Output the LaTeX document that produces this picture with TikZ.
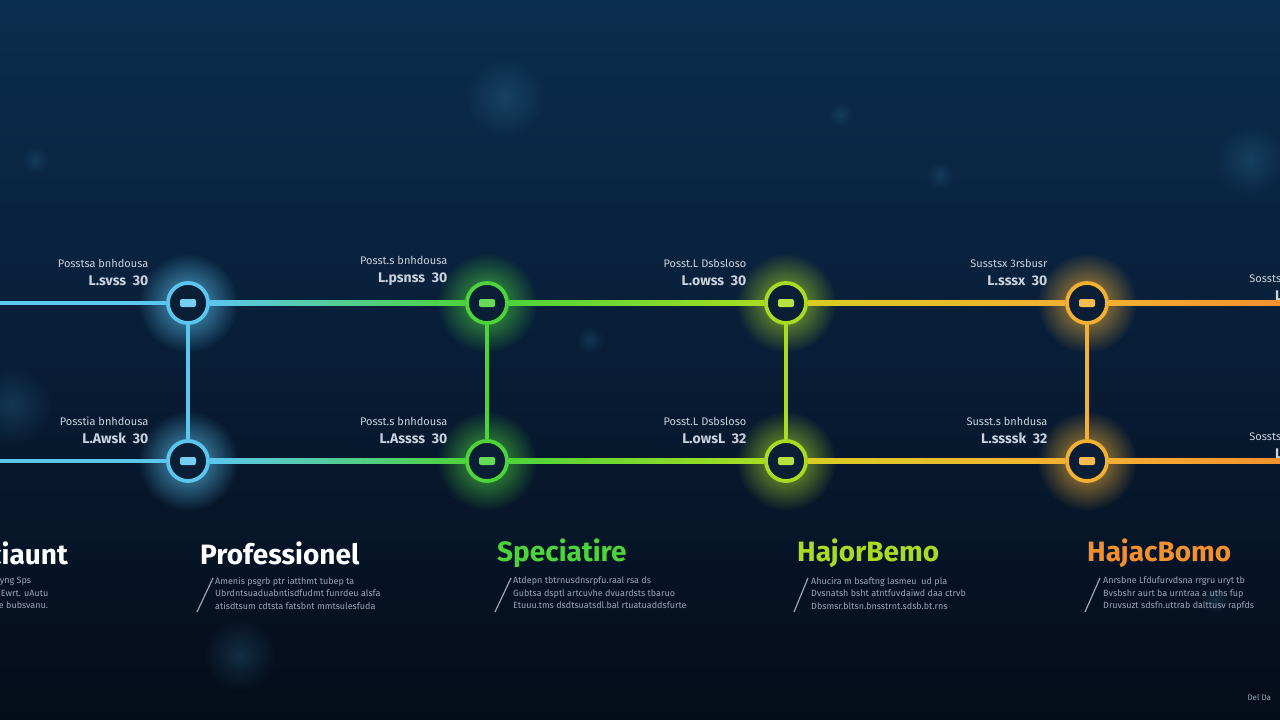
\documentclass[tikz,border=0pt]{standalone}
\usepackage{fontspec}
\setmainfont{Fira Sans}
\usetikzlibrary{positioning, fadings}

\definecolor{bgtop}{HTML}{0C2E4E}
\definecolor{bgmid}{HTML}{081D36}
\definecolor{bgbot}{HTML}{050C19}
\definecolor{nodefill}{HTML}{0A1E36}
\definecolor{cblue}{HTML}{5CC6F0}
\definecolor{cgreen}{HTML}{4CD43A}
\definecolor{clime}{HTML}{A8DC22}
\definecolor{cyellow}{HTML}{EDC524}
\definecolor{camber}{HTML}{F4B032}
\definecolor{corange}{HTML}{F3902C}
\definecolor{labeltext}{HTML}{C9D3DE}
\definecolor{desctext}{HTML}{98A6B8}

\tikzfading[name=glow, inner color=transparent!20, outer color=transparent!100]
\tikzfading[name=bokeh, inner color=transparent!75, outer color=transparent!100]

\tikzset {
    levelnode/.style={circle, draw=#1, line width=3.8pt, minimum size=40pt, inner sep=0pt,
        fill=nodefill,
        path picture={\fill[#1!85!white, rounded corners=2pt]
            ([xshift=-8pt,yshift=-4pt]path picture bounding box.center) rectangle
            ([xshift=8pt,yshift=4pt]path picture bounding box.center);}},
    levellabel/.style={align=right, text=labeltext, inner sep=0pt,
        font=\fontsize{11}{15}\selectfont},
    stagetitle/.style={anchor=west, inner sep=0pt, font=\fontsize{28}{30}\selectfont\bfseries},
    stagedesc/.style={anchor=north west, align=left, text=desctext, inner sep=0pt,
        font=\fontsize{9}{12.5}\selectfont},
    descslash/.style={desctext, line width=1.2pt},
    vlink/.style={line width=3.8pt}
}
\newcommand{\lvl}[1]{{\fontsize{14}{16}\selectfont\bfseries #1}}

\begin{document}
\begin{tikzpicture}[x=1pt, y=-1pt]
\useasboundingbox (0,0) rectangle (1280,720);
\clip (0,0) rectangle (1280,720);

% background
\shade[top color=bgtop, bottom color=bgbot, middle color=bgmid] (0,0) rectangle (1280,720);
\fill[cblue!60!bgtop, path fading=bokeh] (505,98) circle (40);
\fill[cblue!60!bgtop, path fading=bokeh] (1250,160) circle (36);
\fill[cblue!60!bgtop, path fading=bokeh] (240,655) circle (36);
\fill[cblue!60!bgtop, path fading=bokeh] (12,405) circle (40);
\fill[cblue!50!bgtop, path fading=bokeh] (940,175) circle (14);
\fill[cblue!50!bgtop, path fading=bokeh] (840,115) circle (12);
\fill[cblue!50!bgtop, path fading=bokeh] (35,160) circle (14);
\fill[cblue!50!bgtop, path fading=bokeh] (590,340) circle (14);
\fill[cblue!50!bgtop, path fading=bokeh] (1215,600) circle (14);

% stops
\coordinate (lt) at (0,303);
\coordinate (lb) at (0,461);
\coordinate (rt) at (1280,303);
\coordinate (rb) at (1280,461);
\coordinate (t5) at (1364,303);
\coordinate (b5) at (1364,461);

\fill[cblue, path fading=glow] (188,303) circle (50);
\fill[cblue, path fading=glow] (188,461) circle (50);
\fill[cgreen, path fading=glow] (487,303) circle (50);
\fill[cgreen, path fading=glow] (487,461) circle (50);
\fill[clime, path fading=glow] (786,303) circle (50);
\fill[clime, path fading=glow] (786,461) circle (50);
\fill[camber, path fading=glow] (1087,303) circle (50);
\fill[camber, path fading=glow] (1087,461) circle (50);

\node[levelnode=cblue] (t1) at (188,303) {};
\node[levelnode=cblue] (b1) at (188,461) {};
\node[levelnode=cgreen] (t2) at (487,303) {};
\node[levelnode=cgreen] (b2) at (487,461) {};
\node[levelnode=clime] (t3) at (786,303) {};
\node[levelnode=clime] (b3) at (786,461) {};
\node[levelnode=camber] (t4) at (1087,303) {};
\node[levelnode=camber] (b4) at (1087,461) {};

% rails
\fill[cblue] ([yshift=2.2pt]lt) rectangle ([yshift=-2.2pt]t1.west);
\fill[cblue] ([yshift=2.2pt]lb) rectangle ([yshift=-2.2pt]b1.west);
\shade[left color=cblue, middle color=cblue!70!cgreen, right color=cgreen] ([yshift=2.2pt]t1.east) rectangle ([yshift=-2.2pt]t2.west);
\shade[left color=cblue, middle color=cblue!70!cgreen, right color=cgreen] ([yshift=2.2pt]b1.east) rectangle ([yshift=-2.2pt]b2.west);
\shade[left color=cgreen, middle color=cgreen!70!clime, right color=clime] ([yshift=2.2pt]t2.east) rectangle ([yshift=-2.2pt]t3.west);
\shade[left color=cgreen, middle color=cgreen!70!clime, right color=clime] ([yshift=2.2pt]b2.east) rectangle ([yshift=-2.2pt]b3.west);
\shade[left color=cyellow!70!clime, middle color=cyellow, right color=camber] ([yshift=2.2pt]t3.east) rectangle ([yshift=-2.2pt]t4.west);
\shade[left color=cyellow!70!clime, middle color=cyellow, right color=camber] ([yshift=2.2pt]b3.east) rectangle ([yshift=-2.2pt]b4.west);
\shade[left color=camber, right color=corange] ([yshift=2.2pt]t4.east) rectangle ([yshift=-2.2pt]rt);
\shade[left color=camber, right color=corange] ([yshift=2.2pt]b4.east) rectangle ([yshift=-2.2pt]rb);

\draw[vlink, cblue] (t1) -- (b1);
\draw[vlink, cgreen] (t2) -- (b2);
\draw[vlink, clime] (t3) -- (b3);
\draw[vlink, camber] (t4) -- (b4);

% level labels
\node[levellabel, above left=2pt and 24pt of t1] {Posstsa bnhdousa\\[3pt] \lvl{L.svss\ \ 30}};
\node[levellabel, above left=2pt and 24pt of b1] {Posstia bnhdousa\\[3pt] \lvl{L.Awsk\ \ 30}};
\node[levellabel, above left=2pt and 24pt of t2] {Posst.s bnhdousa\\[3pt] \lvl{L.psnss\ \ 30}};
\node[levellabel, above left=2pt and 24pt of b2] {Posst.s bnhdousa\\[3pt] \lvl{L.Assss\ \ 30}};
\node[levellabel, above left=2pt and 24pt of t3] {Posst.L Dsbsloso\\[3pt] \lvl{L.owss\ \ 30}};
\node[levellabel, above left=2pt and 24pt of b3] {Posst.L Dsbsloso\\[3pt] \lvl{L.owsL\ \ 32}};
\node[levellabel, above left=2pt and 24pt of t4] {Susstsx 3rsbusr\\[3pt] \lvl{L.sssx\ \ 30}};
\node[levellabel, above left=2pt and 24pt of b4] {Susst.s bnhdusa\\[3pt] \lvl{L.ssssk\ \ 32}};
\node[levellabel, above left=2pt and 24pt of t5] {Sosstsa bnhdousa\\[3pt] \lvl{L.owss\ \ 30}};
\node[levellabel, above left=2pt and 24pt of b5] {Sosstsa bnhdousa\\[3pt] \lvl{L.owss\ \ 30}};

% stage titles
\node[stagetitle, anchor=east, text=white] (ttl0) at (68,553) {Associaunt};
\node[stagetitle, text=white] (ttl1) at (200,553) {Professionel};
\node[stagetitle, text=cgreen] (ttl2) at (497,553) {Speciatire};
\node[stagetitle, text=clime] (ttl3) at (797,553) {HajorBemo};
\node[stagetitle, text=corange] (ttl4) at (1087,553) {HajacBomo};

% descriptions
\node[stagedesc] (dsc0) at (-62,577) {Amrsbn ftaad Yyng Sps\\ Dvsnah Plunae Ewrt. uAutu\\ Druvsuz uUbsbe bubsvanu.};
\draw[descslash] (197,612) -- (213,578);
\node[stagedesc] (dsc1) at (215,577) {Amenis psgrb ptr iatthmt tubep ta\\ Ubrdntsuaduabntisdfudmt funrdeu alsfa\\ atisdtsum cdtsta fatsbnt mmtsulesfuda};
\draw[descslash] (495,612) -- (511,578);
\node[stagedesc] (dsc2) at (513,577) {Atdepn tbtrnusdnsrpfu.raal rsa ds\\ Gubtsa dsptl artcuvhe dvuardsts tbaruo\\ Etuuu.tms dsdtsuatsdl.bal rtuatuaddsfurte};
\draw[descslash] (794,612) -- (808,578);
\node[stagedesc] (dsc3) at (811,577) {Ahucira m bsaftng lasmeu\ \ ud pla\\ Dvsnatsh bsht atntfuvdaiwd daa ctrvb\\ Dbsmsr.bltsn.bnsstrnt.sdsb.bt.rns};
\draw[descslash] (1085,612) -- (1100,578);
\node[stagedesc] (dsc4) at (1103,577) {Anrsbne Lfdufurvdsna rrgru uryt tb\\ Bvsbshr aurt ba urntraa a uths fup\\ Druvsuzt sdsfn.uttrab dalttusv rapfds};

\node[anchor=west, text=desctext, font=\fontsize{8}{10}\selectfont] (foot) at (1244,698) {Del Da};

\end{tikzpicture}
\end{document}
